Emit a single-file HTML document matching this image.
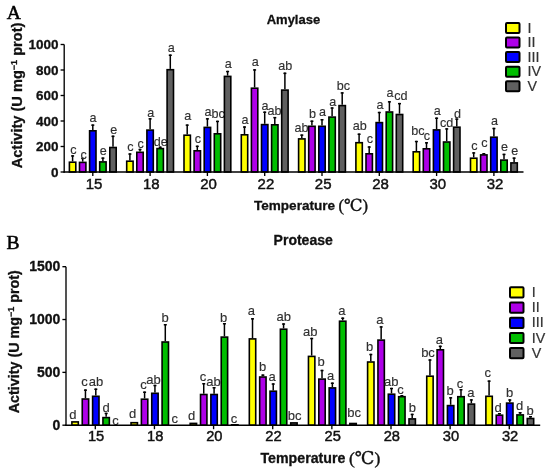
<!DOCTYPE html>
<html><head><meta charset="utf-8"><title>Amylase and Protease activity</title>
<style>
html,body{margin:0;padding:0;background:#fff;}
body{width:550px;height:473px;overflow:hidden;}
svg{display:block;}
text{font-family:"Liberation Sans", Arial, sans-serif;fill:#111;}
.la{font-size:12.6px;fill:#303030;stroke:#303030;stroke-width:0.15px;text-anchor:middle;}
.lb{font-size:13px;fill:#303030;stroke:#303030;stroke-width:0.15px;text-anchor:middle;}
.ya{font-size:13.5px;font-weight:bold;stroke:#111;stroke-width:0.3px;}
.yb{font-size:14px;font-weight:bold;stroke:#111;stroke-width:0.3px;}
.xa{font-size:15px;stroke:#111;stroke-width:0.45px;}
.xb{font-size:14.7px;stroke:#111;stroke-width:0.45px;}
.lg{font-size:14.3px;fill:#333;stroke:#333;stroke-width:0.2px;}
.tt{font-weight:bold;stroke:#111;stroke-width:0.3px;}
.pl{font-family:"Liberation Serif", "Times New Roman", serif;stroke:#000;stroke-width:0.5px;fill:#000;}
.cj{font-family:"Liberation Serif", "DejaVu Serif", "Noto Serif CJK SC", serif;fill:#111;stroke:#111;stroke-width:0.4px;}
</style></head>
<body>
<svg width="550" height="473" viewBox="0 0 550 473">
<rect width="550" height="473" fill="#fff"/>
<text x="6.8" y="18.9" class="pl" font-size="19.6">A</text>
<text x="266.7" y="24" class="tt" font-size="13">Amylase</text>
<text x="6.4" y="249.3" class="pl" font-size="19.6">B</text>
<text x="273.6" y="245.4" class="tt" font-size="14">Protease</text>
<text transform="translate(22.2,168.3) rotate(-90)" class="tt" font-size="14.6">Activity (U mg<tspan font-size="9" dy="-5">−1</tspan><tspan dy="5"> prot)</tspan></text>
<text transform="translate(19.4,413.2) rotate(-90)" class="tt" font-size="14.3">Activity (U mg<tspan font-size="9" dy="-5">−1</tspan><tspan dy="5"> prot)</tspan></text>
<text x="254" y="210.4" class="tt" font-size="13.55">Temperature</text><text x="338.6" y="210.6" class="cj" font-size="16.5">(℃)</text>
<text x="260.5" y="463.4" class="tt" font-size="14.2">Temperature</text><text x="349" y="463.6" class="cj" font-size="17.5">(℃)</text>
<line x1="72.60" y1="161.40" x2="72.60" y2="155.20" stroke="#000" stroke-width="1.5"/>
<line x1="71.10" y1="155.95" x2="74.10" y2="155.95" stroke="#000" stroke-width="1.5"/>
<rect x="69.40" y="162.20" width="6.40" height="9.80" fill="#FFFF00" stroke="#000" stroke-width="1.6"/>
<text x="73.40" y="153.70" class="la">c</text>
<line x1="82.70" y1="161.60" x2="82.70" y2="157.70" stroke="#000" stroke-width="1.5"/>
<line x1="81.20" y1="158.45" x2="84.20" y2="158.45" stroke="#000" stroke-width="1.5"/>
<rect x="79.50" y="162.40" width="6.40" height="9.60" fill="#AE00E8" stroke="#000" stroke-width="1.6"/>
<text x="83.60" y="158.90" class="la">c</text>
<line x1="92.80" y1="130.00" x2="92.80" y2="124.40" stroke="#000" stroke-width="1.5"/>
<line x1="91.30" y1="125.15" x2="94.30" y2="125.15" stroke="#000" stroke-width="1.5"/>
<rect x="89.60" y="130.80" width="6.40" height="41.20" fill="#0000FF" stroke="#000" stroke-width="1.6"/>
<text x="93.10" y="121.90" class="la">a</text>
<line x1="102.90" y1="161.10" x2="102.90" y2="157.40" stroke="#000" stroke-width="1.5"/>
<line x1="101.40" y1="158.15" x2="104.40" y2="158.15" stroke="#000" stroke-width="1.5"/>
<rect x="99.70" y="161.90" width="6.40" height="10.10" fill="#00BE00" stroke="#000" stroke-width="1.6"/>
<text x="103.20" y="155.20" class="la">e</text>
<line x1="113.00" y1="146.70" x2="113.00" y2="135.60" stroke="#000" stroke-width="1.5"/>
<line x1="111.50" y1="136.35" x2="114.50" y2="136.35" stroke="#000" stroke-width="1.5"/>
<rect x="109.80" y="147.50" width="6.40" height="24.50" fill="#606060" stroke="#000" stroke-width="1.6"/>
<text x="113.80" y="134.40" class="la">e</text>
<line x1="129.90" y1="160.40" x2="129.90" y2="153.30" stroke="#000" stroke-width="1.5"/>
<line x1="128.40" y1="154.05" x2="131.40" y2="154.05" stroke="#000" stroke-width="1.5"/>
<rect x="126.70" y="161.20" width="6.40" height="10.80" fill="#FFFF00" stroke="#000" stroke-width="1.6"/>
<text x="130.50" y="150.70" class="la">c</text>
<line x1="140.00" y1="151.50" x2="140.00" y2="148.80" stroke="#000" stroke-width="1.5"/>
<line x1="138.50" y1="149.55" x2="141.50" y2="149.55" stroke="#000" stroke-width="1.5"/>
<rect x="136.80" y="152.30" width="6.40" height="19.70" fill="#AE00E8" stroke="#000" stroke-width="1.6"/>
<text x="140.60" y="147.80" class="la">c</text>
<line x1="150.10" y1="129.30" x2="150.10" y2="118.10" stroke="#000" stroke-width="1.5"/>
<line x1="148.60" y1="118.85" x2="151.60" y2="118.85" stroke="#000" stroke-width="1.5"/>
<rect x="146.90" y="130.10" width="6.40" height="41.90" fill="#0000FF" stroke="#000" stroke-width="1.6"/>
<text x="150.70" y="116.70" class="la">a</text>
<line x1="160.20" y1="147.80" x2="160.20" y2="146.50" stroke="#000" stroke-width="1.5"/>
<line x1="158.70" y1="147.25" x2="161.70" y2="147.25" stroke="#000" stroke-width="1.5"/>
<rect x="157.00" y="148.60" width="6.40" height="23.40" fill="#00BE00" stroke="#000" stroke-width="1.6"/>
<text x="160.80" y="145.60" class="la">de</text>
<line x1="170.30" y1="68.90" x2="170.30" y2="54.50" stroke="#000" stroke-width="1.5"/>
<line x1="168.80" y1="55.25" x2="171.80" y2="55.25" stroke="#000" stroke-width="1.5"/>
<rect x="167.10" y="69.70" width="6.40" height="102.30" fill="#606060" stroke="#000" stroke-width="1.6"/>
<text x="171.15" y="51.90" class="la">a</text>
<line x1="187.20" y1="134.40" x2="187.20" y2="124.40" stroke="#000" stroke-width="1.5"/>
<line x1="185.70" y1="125.15" x2="188.70" y2="125.15" stroke="#000" stroke-width="1.5"/>
<rect x="184.00" y="135.20" width="6.40" height="36.80" fill="#FFFF00" stroke="#000" stroke-width="1.6"/>
<text x="187.80" y="120.10" class="la">a</text>
<line x1="197.30" y1="150.00" x2="197.30" y2="145.60" stroke="#000" stroke-width="1.5"/>
<line x1="195.80" y1="146.35" x2="198.80" y2="146.35" stroke="#000" stroke-width="1.5"/>
<rect x="194.10" y="150.80" width="6.40" height="21.20" fill="#AE00E8" stroke="#000" stroke-width="1.6"/>
<text x="197.90" y="143.30" class="la">c</text>
<line x1="207.40" y1="126.60" x2="207.40" y2="118.10" stroke="#000" stroke-width="1.5"/>
<line x1="205.90" y1="118.85" x2="208.90" y2="118.85" stroke="#000" stroke-width="1.5"/>
<rect x="204.20" y="127.40" width="6.40" height="44.60" fill="#0000FF" stroke="#000" stroke-width="1.6"/>
<text x="208.00" y="116.00" class="la">a</text>
<line x1="217.50" y1="133.00" x2="217.50" y2="120.70" stroke="#000" stroke-width="1.5"/>
<line x1="216.00" y1="121.45" x2="219.00" y2="121.45" stroke="#000" stroke-width="1.5"/>
<rect x="214.30" y="133.80" width="6.40" height="38.20" fill="#00BE00" stroke="#000" stroke-width="1.6"/>
<text x="218.10" y="118.10" class="la">bc</text>
<line x1="227.60" y1="75.60" x2="227.60" y2="70.80" stroke="#000" stroke-width="1.5"/>
<line x1="226.10" y1="71.55" x2="229.10" y2="71.55" stroke="#000" stroke-width="1.5"/>
<rect x="224.40" y="76.40" width="6.40" height="95.60" fill="#606060" stroke="#000" stroke-width="1.6"/>
<text x="228.20" y="68.10" class="la">a</text>
<line x1="244.50" y1="134.00" x2="244.50" y2="126.30" stroke="#000" stroke-width="1.5"/>
<line x1="243.00" y1="127.05" x2="246.00" y2="127.05" stroke="#000" stroke-width="1.5"/>
<rect x="241.30" y="134.80" width="6.40" height="37.20" fill="#FFFF00" stroke="#000" stroke-width="1.6"/>
<text x="245.10" y="123.60" class="la">a</text>
<line x1="254.60" y1="87.40" x2="254.60" y2="69.20" stroke="#000" stroke-width="1.5"/>
<line x1="253.10" y1="69.95" x2="256.10" y2="69.95" stroke="#000" stroke-width="1.5"/>
<rect x="251.40" y="88.20" width="6.40" height="83.80" fill="#AE00E8" stroke="#000" stroke-width="1.6"/>
<text x="255.20" y="65.90" class="la">a</text>
<line x1="264.70" y1="123.80" x2="264.70" y2="111.50" stroke="#000" stroke-width="1.5"/>
<line x1="263.20" y1="112.25" x2="266.20" y2="112.25" stroke="#000" stroke-width="1.5"/>
<rect x="261.50" y="124.60" width="6.40" height="47.40" fill="#0000FF" stroke="#000" stroke-width="1.6"/>
<text x="265.00" y="109.60" class="la">a</text>
<line x1="274.80" y1="124.00" x2="274.80" y2="116.90" stroke="#000" stroke-width="1.5"/>
<line x1="273.30" y1="117.65" x2="276.30" y2="117.65" stroke="#000" stroke-width="1.5"/>
<rect x="271.60" y="124.80" width="6.40" height="47.20" fill="#00BE00" stroke="#000" stroke-width="1.6"/>
<text x="274.50" y="115.00" class="la">ab</text>
<line x1="284.90" y1="89.30" x2="284.90" y2="72.60" stroke="#000" stroke-width="1.5"/>
<line x1="283.40" y1="73.35" x2="286.40" y2="73.35" stroke="#000" stroke-width="1.5"/>
<rect x="281.70" y="90.10" width="6.40" height="81.90" fill="#606060" stroke="#000" stroke-width="1.6"/>
<text x="285.30" y="70.40" class="la">ab</text>
<line x1="301.80" y1="138.10" x2="301.80" y2="134.40" stroke="#000" stroke-width="1.5"/>
<line x1="300.30" y1="135.15" x2="303.30" y2="135.15" stroke="#000" stroke-width="1.5"/>
<rect x="298.60" y="138.90" width="6.40" height="33.10" fill="#FFFF00" stroke="#000" stroke-width="1.6"/>
<text x="301.50" y="131.50" class="la">ab</text>
<line x1="311.90" y1="125.50" x2="311.90" y2="120.50" stroke="#000" stroke-width="1.5"/>
<line x1="310.40" y1="121.25" x2="313.40" y2="121.25" stroke="#000" stroke-width="1.5"/>
<rect x="308.70" y="126.30" width="6.40" height="45.70" fill="#AE00E8" stroke="#000" stroke-width="1.6"/>
<text x="312.50" y="118.10" class="la">b</text>
<line x1="322.00" y1="125.50" x2="322.00" y2="119.00" stroke="#000" stroke-width="1.5"/>
<line x1="320.50" y1="119.75" x2="323.50" y2="119.75" stroke="#000" stroke-width="1.5"/>
<rect x="318.80" y="126.30" width="6.40" height="45.70" fill="#0000FF" stroke="#000" stroke-width="1.6"/>
<text x="322.60" y="115.90" class="la">a</text>
<line x1="332.10" y1="116.30" x2="332.10" y2="107.30" stroke="#000" stroke-width="1.5"/>
<line x1="330.60" y1="108.05" x2="333.60" y2="108.05" stroke="#000" stroke-width="1.5"/>
<rect x="328.90" y="117.10" width="6.40" height="54.90" fill="#00BE00" stroke="#000" stroke-width="1.6"/>
<text x="332.70" y="106.30" class="la">a</text>
<line x1="342.20" y1="104.80" x2="342.20" y2="92.20" stroke="#000" stroke-width="1.5"/>
<line x1="340.70" y1="92.95" x2="343.70" y2="92.95" stroke="#000" stroke-width="1.5"/>
<rect x="339.00" y="105.60" width="6.40" height="66.40" fill="#606060" stroke="#000" stroke-width="1.6"/>
<text x="343.50" y="90.00" class="la">bc</text>
<line x1="359.10" y1="141.90" x2="359.10" y2="133.50" stroke="#000" stroke-width="1.5"/>
<line x1="357.60" y1="134.25" x2="360.60" y2="134.25" stroke="#000" stroke-width="1.5"/>
<rect x="355.90" y="142.70" width="6.40" height="29.30" fill="#FFFF00" stroke="#000" stroke-width="1.6"/>
<text x="359.75" y="130.30" class="la">ab</text>
<line x1="369.20" y1="153.00" x2="369.20" y2="146.30" stroke="#000" stroke-width="1.5"/>
<line x1="367.70" y1="147.05" x2="370.70" y2="147.05" stroke="#000" stroke-width="1.5"/>
<rect x="366.00" y="153.80" width="6.40" height="18.20" fill="#AE00E8" stroke="#000" stroke-width="1.6"/>
<text x="369.80" y="142.90" class="la">c</text>
<line x1="379.30" y1="121.80" x2="379.30" y2="111.80" stroke="#000" stroke-width="1.5"/>
<line x1="377.80" y1="112.55" x2="380.80" y2="112.55" stroke="#000" stroke-width="1.5"/>
<rect x="376.10" y="122.60" width="6.40" height="49.40" fill="#0000FF" stroke="#000" stroke-width="1.6"/>
<text x="379.90" y="109.30" class="la">a</text>
<line x1="389.40" y1="111.20" x2="389.40" y2="101.10" stroke="#000" stroke-width="1.5"/>
<line x1="387.90" y1="101.85" x2="390.90" y2="101.85" stroke="#000" stroke-width="1.5"/>
<rect x="386.20" y="112.00" width="6.40" height="60.00" fill="#00BE00" stroke="#000" stroke-width="1.6"/>
<text x="390.00" y="97.40" class="la">a</text>
<line x1="399.50" y1="113.70" x2="399.50" y2="102.90" stroke="#000" stroke-width="1.5"/>
<line x1="398.00" y1="103.65" x2="401.00" y2="103.65" stroke="#000" stroke-width="1.5"/>
<rect x="396.30" y="114.50" width="6.40" height="57.50" fill="#606060" stroke="#000" stroke-width="1.6"/>
<text x="400.90" y="99.60" class="la">cd</text>
<line x1="416.40" y1="151.00" x2="416.40" y2="140.80" stroke="#000" stroke-width="1.5"/>
<line x1="414.90" y1="141.55" x2="417.90" y2="141.55" stroke="#000" stroke-width="1.5"/>
<rect x="413.20" y="151.80" width="6.40" height="20.20" fill="#FFFF00" stroke="#000" stroke-width="1.6"/>
<text x="417.90" y="135.40" class="la">bc</text>
<line x1="426.50" y1="148.00" x2="426.50" y2="142.10" stroke="#000" stroke-width="1.5"/>
<line x1="425.00" y1="142.85" x2="428.00" y2="142.85" stroke="#000" stroke-width="1.5"/>
<rect x="423.30" y="148.80" width="6.40" height="23.20" fill="#AE00E8" stroke="#000" stroke-width="1.6"/>
<text x="426.85" y="139.90" class="la">c</text>
<line x1="436.60" y1="129.10" x2="436.60" y2="117.50" stroke="#000" stroke-width="1.5"/>
<line x1="435.10" y1="118.25" x2="438.10" y2="118.25" stroke="#000" stroke-width="1.5"/>
<rect x="433.40" y="129.90" width="6.40" height="42.10" fill="#0000FF" stroke="#000" stroke-width="1.6"/>
<text x="437.20" y="114.80" class="la">a</text>
<line x1="446.70" y1="141.20" x2="446.70" y2="128.20" stroke="#000" stroke-width="1.5"/>
<line x1="445.20" y1="128.95" x2="448.20" y2="128.95" stroke="#000" stroke-width="1.5"/>
<rect x="443.50" y="142.00" width="6.40" height="30.00" fill="#00BE00" stroke="#000" stroke-width="1.6"/>
<text x="446.60" y="127.30" class="la">cd</text>
<line x1="456.80" y1="126.40" x2="456.80" y2="118.40" stroke="#000" stroke-width="1.5"/>
<line x1="455.30" y1="119.15" x2="458.30" y2="119.15" stroke="#000" stroke-width="1.5"/>
<rect x="453.60" y="127.20" width="6.40" height="44.80" fill="#606060" stroke="#000" stroke-width="1.6"/>
<text x="457.40" y="117.50" class="la">d</text>
<line x1="473.70" y1="157.40" x2="473.70" y2="152.20" stroke="#000" stroke-width="1.5"/>
<line x1="472.20" y1="152.95" x2="475.20" y2="152.95" stroke="#000" stroke-width="1.5"/>
<rect x="470.50" y="158.20" width="6.40" height="13.80" fill="#FFFF00" stroke="#000" stroke-width="1.6"/>
<text x="474.30" y="150.30" class="la">c</text>
<line x1="483.80" y1="154.10" x2="483.80" y2="153.00" stroke="#000" stroke-width="1.5"/>
<line x1="482.30" y1="153.75" x2="485.30" y2="153.75" stroke="#000" stroke-width="1.5"/>
<rect x="480.60" y="154.90" width="6.40" height="17.10" fill="#AE00E8" stroke="#000" stroke-width="1.6"/>
<text x="484.40" y="147.00" class="la">c</text>
<line x1="493.90" y1="136.40" x2="493.90" y2="127.80" stroke="#000" stroke-width="1.5"/>
<line x1="492.40" y1="128.55" x2="495.40" y2="128.55" stroke="#000" stroke-width="1.5"/>
<rect x="490.70" y="137.20" width="6.40" height="34.80" fill="#0000FF" stroke="#000" stroke-width="1.6"/>
<text x="494.50" y="124.80" class="la">a</text>
<line x1="504.00" y1="159.30" x2="504.00" y2="153.70" stroke="#000" stroke-width="1.5"/>
<line x1="502.50" y1="154.45" x2="505.50" y2="154.45" stroke="#000" stroke-width="1.5"/>
<rect x="500.80" y="160.10" width="6.40" height="11.90" fill="#00BE00" stroke="#000" stroke-width="1.6"/>
<text x="504.60" y="151.20" class="la">e</text>
<line x1="514.10" y1="162.10" x2="514.10" y2="157.40" stroke="#000" stroke-width="1.5"/>
<line x1="512.60" y1="158.15" x2="515.60" y2="158.15" stroke="#000" stroke-width="1.5"/>
<rect x="510.90" y="162.90" width="6.40" height="9.10" fill="#606060" stroke="#000" stroke-width="1.6"/>
<text x="514.70" y="155.20" class="la">e</text>
<line x1="64.20" y1="44.50" x2="64.20" y2="172.75" stroke="#000" stroke-width="1.35"/>
<line x1="63.45" y1="172.00" x2="523.50" y2="172.00" stroke="#000" stroke-width="1.35"/>
<line x1="60.60" y1="172.00" x2="64.20" y2="172.00" stroke="#000" stroke-width="1.35"/>
<text x="58.50" y="176.60" class="ya" text-anchor="end">0</text>
<line x1="60.60" y1="146.50" x2="64.20" y2="146.50" stroke="#000" stroke-width="1.35"/>
<text x="58.50" y="151.10" class="ya" text-anchor="end">200</text>
<line x1="60.60" y1="121.00" x2="64.20" y2="121.00" stroke="#000" stroke-width="1.35"/>
<text x="58.50" y="125.60" class="ya" text-anchor="end">400</text>
<line x1="60.60" y1="95.50" x2="64.20" y2="95.50" stroke="#000" stroke-width="1.35"/>
<text x="58.50" y="100.10" class="ya" text-anchor="end">600</text>
<line x1="60.60" y1="70.00" x2="64.20" y2="70.00" stroke="#000" stroke-width="1.35"/>
<text x="58.50" y="74.60" class="ya" text-anchor="end">800</text>
<line x1="60.60" y1="44.50" x2="64.20" y2="44.50" stroke="#000" stroke-width="1.35"/>
<text x="58.50" y="49.10" class="ya" text-anchor="end">1000</text>
<line x1="92.80" y1="172.00" x2="92.80" y2="176.00" stroke="#000" stroke-width="1.35"/>
<text x="94.00" y="189.00" class="xa" text-anchor="middle">15</text>
<line x1="150.10" y1="172.00" x2="150.10" y2="176.00" stroke="#000" stroke-width="1.35"/>
<text x="151.30" y="189.00" class="xa" text-anchor="middle">18</text>
<line x1="207.40" y1="172.00" x2="207.40" y2="176.00" stroke="#000" stroke-width="1.35"/>
<text x="208.60" y="189.00" class="xa" text-anchor="middle">20</text>
<line x1="264.70" y1="172.00" x2="264.70" y2="176.00" stroke="#000" stroke-width="1.35"/>
<text x="265.90" y="189.00" class="xa" text-anchor="middle">22</text>
<line x1="322.00" y1="172.00" x2="322.00" y2="176.00" stroke="#000" stroke-width="1.35"/>
<text x="323.20" y="189.00" class="xa" text-anchor="middle">25</text>
<line x1="379.30" y1="172.00" x2="379.30" y2="176.00" stroke="#000" stroke-width="1.35"/>
<text x="380.50" y="189.00" class="xa" text-anchor="middle">28</text>
<line x1="436.60" y1="172.00" x2="436.60" y2="176.00" stroke="#000" stroke-width="1.35"/>
<text x="437.80" y="189.00" class="xa" text-anchor="middle">30</text>
<line x1="493.90" y1="172.00" x2="493.90" y2="176.00" stroke="#000" stroke-width="1.35"/>
<text x="495.10" y="189.00" class="xa" text-anchor="middle">32</text>
<rect x="71.90" y="421.90" width="6.40" height="3.30" fill="#FFFF00" stroke="#000" stroke-width="1.6"/>
<text x="72.80" y="418.90" class="lb">d</text>
<line x1="85.45" y1="398.20" x2="85.45" y2="389.40" stroke="#000" stroke-width="1.5"/>
<line x1="83.95" y1="390.15" x2="86.95" y2="390.15" stroke="#000" stroke-width="1.5"/>
<rect x="82.25" y="399.00" width="6.40" height="26.20" fill="#AE00E8" stroke="#000" stroke-width="1.6"/>
<text x="84.50" y="385.60" class="lb">c</text>
<line x1="95.80" y1="395.50" x2="95.80" y2="388.50" stroke="#000" stroke-width="1.5"/>
<line x1="94.30" y1="389.25" x2="97.30" y2="389.25" stroke="#000" stroke-width="1.5"/>
<rect x="92.60" y="396.30" width="6.40" height="28.90" fill="#0000FF" stroke="#000" stroke-width="1.6"/>
<text x="95.90" y="386.30" class="lb">ab</text>
<line x1="106.15" y1="416.80" x2="106.15" y2="412.70" stroke="#000" stroke-width="1.5"/>
<line x1="104.65" y1="413.45" x2="107.65" y2="413.45" stroke="#000" stroke-width="1.5"/>
<rect x="102.95" y="417.60" width="6.40" height="7.60" fill="#00BE00" stroke="#000" stroke-width="1.6"/>
<text x="106.00" y="411.50" class="lb">d</text>
<text x="115.50" y="424.80" class="lb">c</text>
<rect x="131.04" y="422.70" width="6.40" height="2.50" fill="#FFFF00" stroke="#000" stroke-width="1.6"/>
<text x="132.60" y="417.70" class="lb">d</text>
<line x1="144.59" y1="398.40" x2="144.59" y2="391.50" stroke="#000" stroke-width="1.5"/>
<line x1="143.09" y1="392.25" x2="146.09" y2="392.25" stroke="#000" stroke-width="1.5"/>
<rect x="141.39" y="399.20" width="6.40" height="26.00" fill="#AE00E8" stroke="#000" stroke-width="1.6"/>
<text x="143.50" y="389.30" class="lb">c</text>
<line x1="154.94" y1="392.50" x2="154.94" y2="384.80" stroke="#000" stroke-width="1.5"/>
<line x1="153.44" y1="385.55" x2="156.44" y2="385.55" stroke="#000" stroke-width="1.5"/>
<rect x="151.74" y="393.30" width="6.40" height="31.90" fill="#0000FF" stroke="#000" stroke-width="1.6"/>
<text x="153.50" y="384.10" class="lb">ab</text>
<line x1="165.29" y1="341.20" x2="165.29" y2="324.00" stroke="#000" stroke-width="1.5"/>
<line x1="163.79" y1="324.75" x2="166.79" y2="324.75" stroke="#000" stroke-width="1.5"/>
<rect x="162.09" y="342.00" width="6.40" height="83.20" fill="#00BE00" stroke="#000" stroke-width="1.6"/>
<text x="165.00" y="321.50" class="lb">b</text>
<text x="174.70" y="423.00" class="lb">c</text>
<rect x="190.18" y="423.40" width="6.40" height="1.80" fill="#FFFF00" stroke="#000" stroke-width="1.6"/>
<text x="191.70" y="420.40" class="lb">d</text>
<line x1="203.73" y1="393.70" x2="203.73" y2="383.00" stroke="#000" stroke-width="1.5"/>
<line x1="202.23" y1="383.75" x2="205.23" y2="383.75" stroke="#000" stroke-width="1.5"/>
<rect x="200.53" y="394.50" width="6.40" height="30.70" fill="#AE00E8" stroke="#000" stroke-width="1.6"/>
<text x="203.00" y="381.10" class="lb">c</text>
<line x1="214.08" y1="393.70" x2="214.08" y2="387.00" stroke="#000" stroke-width="1.5"/>
<line x1="212.58" y1="387.75" x2="215.58" y2="387.75" stroke="#000" stroke-width="1.5"/>
<rect x="210.88" y="394.50" width="6.40" height="30.70" fill="#0000FF" stroke="#000" stroke-width="1.6"/>
<text x="213.50" y="386.00" class="lb">ab</text>
<line x1="224.43" y1="336.30" x2="224.43" y2="323.00" stroke="#000" stroke-width="1.5"/>
<line x1="222.93" y1="323.75" x2="225.93" y2="323.75" stroke="#000" stroke-width="1.5"/>
<rect x="221.23" y="337.10" width="6.40" height="88.10" fill="#00BE00" stroke="#000" stroke-width="1.6"/>
<text x="223.70" y="321.50" class="lb">b</text>
<rect x="231.58" y="424.80" width="6.40" height="0.40" fill="#606060" stroke="#000" stroke-width="1.6"/>
<text x="234.00" y="423.00" class="lb">c</text>
<line x1="252.52" y1="338.10" x2="252.52" y2="318.10" stroke="#000" stroke-width="1.5"/>
<line x1="251.02" y1="318.85" x2="254.02" y2="318.85" stroke="#000" stroke-width="1.5"/>
<rect x="249.32" y="338.90" width="6.40" height="86.30" fill="#FFFF00" stroke="#000" stroke-width="1.6"/>
<text x="251.30" y="315.10" class="lb">a</text>
<line x1="262.87" y1="376.20" x2="262.87" y2="374.40" stroke="#000" stroke-width="1.5"/>
<line x1="261.37" y1="375.15" x2="264.37" y2="375.15" stroke="#000" stroke-width="1.5"/>
<rect x="259.67" y="377.00" width="6.40" height="48.20" fill="#AE00E8" stroke="#000" stroke-width="1.6"/>
<text x="262.50" y="371.30" class="lb">b</text>
<line x1="273.22" y1="390.40" x2="273.22" y2="383.30" stroke="#000" stroke-width="1.5"/>
<line x1="271.72" y1="384.05" x2="274.72" y2="384.05" stroke="#000" stroke-width="1.5"/>
<rect x="270.02" y="391.20" width="6.40" height="34.00" fill="#0000FF" stroke="#000" stroke-width="1.6"/>
<text x="272.00" y="380.60" class="lb">a</text>
<line x1="283.57" y1="328.40" x2="283.57" y2="323.30" stroke="#000" stroke-width="1.5"/>
<line x1="282.07" y1="324.05" x2="285.07" y2="324.05" stroke="#000" stroke-width="1.5"/>
<rect x="280.37" y="329.20" width="6.40" height="96.00" fill="#00BE00" stroke="#000" stroke-width="1.6"/>
<text x="283.70" y="320.70" class="lb">ab</text>
<rect x="290.72" y="422.90" width="6.40" height="2.30" fill="#606060" stroke="#000" stroke-width="1.6"/>
<text x="294.60" y="419.60" class="lb">bc</text>
<line x1="311.66" y1="355.60" x2="311.66" y2="337.80" stroke="#000" stroke-width="1.5"/>
<line x1="310.16" y1="338.55" x2="313.16" y2="338.55" stroke="#000" stroke-width="1.5"/>
<rect x="308.46" y="356.40" width="6.40" height="68.80" fill="#FFFF00" stroke="#000" stroke-width="1.6"/>
<text x="310.30" y="335.60" class="lb">ab</text>
<line x1="322.01" y1="378.30" x2="322.01" y2="369.80" stroke="#000" stroke-width="1.5"/>
<line x1="320.51" y1="370.55" x2="323.51" y2="370.55" stroke="#000" stroke-width="1.5"/>
<rect x="318.81" y="379.10" width="6.40" height="46.10" fill="#AE00E8" stroke="#000" stroke-width="1.6"/>
<text x="321.00" y="366.00" class="lb">b</text>
<line x1="332.36" y1="387.10" x2="332.36" y2="382.50" stroke="#000" stroke-width="1.5"/>
<line x1="330.86" y1="383.25" x2="333.86" y2="383.25" stroke="#000" stroke-width="1.5"/>
<rect x="329.16" y="387.90" width="6.40" height="37.30" fill="#0000FF" stroke="#000" stroke-width="1.6"/>
<text x="330.60" y="380.00" class="lb">a</text>
<line x1="342.71" y1="320.40" x2="342.71" y2="317.50" stroke="#000" stroke-width="1.5"/>
<line x1="341.21" y1="318.25" x2="344.21" y2="318.25" stroke="#000" stroke-width="1.5"/>
<rect x="339.51" y="321.20" width="6.40" height="104.00" fill="#00BE00" stroke="#000" stroke-width="1.6"/>
<text x="341.80" y="315.10" class="lb">a</text>
<rect x="349.86" y="423.50" width="6.40" height="1.70" fill="#606060" stroke="#000" stroke-width="1.6"/>
<text x="354.20" y="416.80" class="lb">bc</text>
<line x1="370.80" y1="361.20" x2="370.80" y2="353.80" stroke="#000" stroke-width="1.5"/>
<line x1="369.30" y1="354.55" x2="372.30" y2="354.55" stroke="#000" stroke-width="1.5"/>
<rect x="367.60" y="362.00" width="6.40" height="63.20" fill="#FFFF00" stroke="#000" stroke-width="1.6"/>
<text x="369.70" y="351.10" class="lb">b</text>
<line x1="381.15" y1="339.30" x2="381.15" y2="326.20" stroke="#000" stroke-width="1.5"/>
<line x1="379.65" y1="326.95" x2="382.65" y2="326.95" stroke="#000" stroke-width="1.5"/>
<rect x="377.95" y="340.10" width="6.40" height="85.10" fill="#AE00E8" stroke="#000" stroke-width="1.6"/>
<text x="379.80" y="323.70" class="lb">a</text>
<line x1="391.50" y1="393.40" x2="391.50" y2="387.80" stroke="#000" stroke-width="1.5"/>
<line x1="390.00" y1="388.55" x2="393.00" y2="388.55" stroke="#000" stroke-width="1.5"/>
<rect x="388.30" y="394.20" width="6.40" height="31.00" fill="#0000FF" stroke="#000" stroke-width="1.6"/>
<text x="391.30" y="385.60" class="lb">ab</text>
<line x1="401.85" y1="395.90" x2="401.85" y2="395.00" stroke="#000" stroke-width="1.5"/>
<line x1="400.35" y1="395.75" x2="403.35" y2="395.75" stroke="#000" stroke-width="1.5"/>
<rect x="398.65" y="396.70" width="6.40" height="28.50" fill="#00BE00" stroke="#000" stroke-width="1.6"/>
<text x="400.40" y="393.70" class="lb">c</text>
<line x1="412.20" y1="418.10" x2="412.20" y2="413.70" stroke="#000" stroke-width="1.5"/>
<line x1="410.70" y1="414.45" x2="413.70" y2="414.45" stroke="#000" stroke-width="1.5"/>
<rect x="409.00" y="418.90" width="6.40" height="6.30" fill="#606060" stroke="#000" stroke-width="1.6"/>
<text x="412.30" y="411.50" class="lb">b</text>
<line x1="429.94" y1="375.40" x2="429.94" y2="359.30" stroke="#000" stroke-width="1.5"/>
<line x1="428.44" y1="360.05" x2="431.44" y2="360.05" stroke="#000" stroke-width="1.5"/>
<rect x="426.74" y="376.20" width="6.40" height="49.00" fill="#FFFF00" stroke="#000" stroke-width="1.6"/>
<text x="428.00" y="357.40" class="lb">bc</text>
<line x1="440.29" y1="349.00" x2="440.29" y2="345.60" stroke="#000" stroke-width="1.5"/>
<line x1="438.79" y1="346.35" x2="441.79" y2="346.35" stroke="#000" stroke-width="1.5"/>
<rect x="437.09" y="349.80" width="6.40" height="75.40" fill="#AE00E8" stroke="#000" stroke-width="1.6"/>
<text x="439.30" y="344.10" class="lb">a</text>
<line x1="450.64" y1="404.80" x2="450.64" y2="397.10" stroke="#000" stroke-width="1.5"/>
<line x1="449.14" y1="397.85" x2="452.14" y2="397.85" stroke="#000" stroke-width="1.5"/>
<rect x="447.44" y="405.60" width="6.40" height="19.60" fill="#0000FF" stroke="#000" stroke-width="1.6"/>
<text x="450.00" y="395.20" class="lb">b</text>
<line x1="460.99" y1="395.90" x2="460.99" y2="389.00" stroke="#000" stroke-width="1.5"/>
<line x1="459.49" y1="389.75" x2="462.49" y2="389.75" stroke="#000" stroke-width="1.5"/>
<rect x="457.79" y="396.70" width="6.40" height="28.50" fill="#00BE00" stroke="#000" stroke-width="1.6"/>
<text x="460.10" y="387.50" class="lb">c</text>
<line x1="471.34" y1="403.30" x2="471.34" y2="399.20" stroke="#000" stroke-width="1.5"/>
<line x1="469.84" y1="399.95" x2="472.84" y2="399.95" stroke="#000" stroke-width="1.5"/>
<rect x="468.14" y="404.10" width="6.40" height="21.10" fill="#606060" stroke="#000" stroke-width="1.6"/>
<text x="470.90" y="396.70" class="lb">a</text>
<line x1="489.08" y1="395.50" x2="489.08" y2="380.40" stroke="#000" stroke-width="1.5"/>
<line x1="487.58" y1="381.15" x2="490.58" y2="381.15" stroke="#000" stroke-width="1.5"/>
<rect x="485.88" y="396.30" width="6.40" height="28.90" fill="#FFFF00" stroke="#000" stroke-width="1.6"/>
<text x="487.70" y="376.70" class="lb">c</text>
<line x1="499.43" y1="414.40" x2="499.43" y2="413.00" stroke="#000" stroke-width="1.5"/>
<line x1="497.93" y1="413.75" x2="500.93" y2="413.75" stroke="#000" stroke-width="1.5"/>
<rect x="496.23" y="415.20" width="6.40" height="10.00" fill="#AE00E8" stroke="#000" stroke-width="1.6"/>
<text x="498.10" y="412.20" class="lb">d</text>
<line x1="509.78" y1="402.30" x2="509.78" y2="399.30" stroke="#000" stroke-width="1.5"/>
<line x1="508.28" y1="400.05" x2="511.28" y2="400.05" stroke="#000" stroke-width="1.5"/>
<rect x="506.58" y="403.10" width="6.40" height="22.10" fill="#0000FF" stroke="#000" stroke-width="1.6"/>
<text x="509.70" y="397.40" class="lb">b</text>
<line x1="520.13" y1="414.10" x2="520.13" y2="412.00" stroke="#000" stroke-width="1.5"/>
<line x1="518.63" y1="412.75" x2="521.63" y2="412.75" stroke="#000" stroke-width="1.5"/>
<rect x="516.93" y="414.90" width="6.40" height="10.30" fill="#00BE00" stroke="#000" stroke-width="1.6"/>
<text x="519.60" y="410.30" class="lb">d</text>
<line x1="530.48" y1="417.70" x2="530.48" y2="416.00" stroke="#000" stroke-width="1.5"/>
<line x1="528.98" y1="416.75" x2="531.98" y2="416.75" stroke="#000" stroke-width="1.5"/>
<rect x="527.28" y="418.50" width="6.40" height="6.70" fill="#606060" stroke="#000" stroke-width="1.6"/>
<text x="530.00" y="415.20" class="lb">b</text>
<line x1="66.00" y1="266.70" x2="66.00" y2="425.95" stroke="#000" stroke-width="1.35"/>
<line x1="65.25" y1="425.20" x2="540.20" y2="425.20" stroke="#000" stroke-width="1.35"/>
<line x1="62.40" y1="425.20" x2="66.00" y2="425.20" stroke="#000" stroke-width="1.35"/>
<text x="60.30" y="429.80" class="yb" text-anchor="end">0</text>
<line x1="62.40" y1="372.37" x2="66.00" y2="372.37" stroke="#000" stroke-width="1.35"/>
<text x="60.30" y="376.97" class="yb" text-anchor="end">500</text>
<line x1="62.40" y1="319.53" x2="66.00" y2="319.53" stroke="#000" stroke-width="1.35"/>
<text x="60.30" y="324.13" class="yb" text-anchor="end">1000</text>
<line x1="62.40" y1="266.69" x2="66.00" y2="266.69" stroke="#000" stroke-width="1.35"/>
<text x="60.30" y="271.30" class="yb" text-anchor="end">1500</text>
<line x1="95.30" y1="425.20" x2="95.30" y2="429.20" stroke="#000" stroke-width="1.35"/>
<text x="96.10" y="441.10" class="xb" text-anchor="middle">15</text>
<line x1="154.44" y1="425.20" x2="154.44" y2="429.20" stroke="#000" stroke-width="1.35"/>
<text x="155.24" y="441.10" class="xb" text-anchor="middle">18</text>
<line x1="213.58" y1="425.20" x2="213.58" y2="429.20" stroke="#000" stroke-width="1.35"/>
<text x="214.38" y="441.10" class="xb" text-anchor="middle">20</text>
<line x1="272.72" y1="425.20" x2="272.72" y2="429.20" stroke="#000" stroke-width="1.35"/>
<text x="273.52" y="441.10" class="xb" text-anchor="middle">22</text>
<line x1="331.86" y1="425.20" x2="331.86" y2="429.20" stroke="#000" stroke-width="1.35"/>
<text x="332.66" y="441.10" class="xb" text-anchor="middle">25</text>
<line x1="391.00" y1="425.20" x2="391.00" y2="429.20" stroke="#000" stroke-width="1.35"/>
<text x="391.80" y="441.10" class="xb" text-anchor="middle">28</text>
<line x1="450.14" y1="425.20" x2="450.14" y2="429.20" stroke="#000" stroke-width="1.35"/>
<text x="450.94" y="441.10" class="xb" text-anchor="middle">30</text>
<line x1="509.28" y1="425.20" x2="509.28" y2="429.20" stroke="#000" stroke-width="1.35"/>
<text x="510.08" y="441.10" class="xb" text-anchor="middle">32</text>
<rect x="506.00" y="22.90" width="13.50" height="10.00" rx="1" fill="#FFFF00" stroke="#000" stroke-width="2"/>
<text x="527.60" y="32.50" class="lg">I</text>
<rect x="506.00" y="37.50" width="13.50" height="10.00" rx="1" fill="#AE00E8" stroke="#000" stroke-width="2"/>
<text x="527.60" y="47.10" class="lg">II</text>
<rect x="506.00" y="52.10" width="13.50" height="10.00" rx="1" fill="#0000FF" stroke="#000" stroke-width="2"/>
<text x="527.60" y="61.70" class="lg">III</text>
<rect x="506.00" y="66.70" width="13.50" height="10.00" rx="1" fill="#00BE00" stroke="#000" stroke-width="2"/>
<text x="527.60" y="76.30" class="lg">IV</text>
<rect x="506.00" y="81.30" width="13.50" height="10.00" rx="1" fill="#606060" stroke="#000" stroke-width="2"/>
<text x="527.60" y="90.90" class="lg">V</text>
<rect x="510.00" y="287.30" width="13.50" height="10.20" rx="1" fill="#FFFF00" stroke="#000" stroke-width="2"/>
<text x="531.80" y="296.90" class="lg">I</text>
<rect x="510.00" y="302.50" width="13.50" height="10.20" rx="1" fill="#AE00E8" stroke="#000" stroke-width="2"/>
<text x="531.80" y="312.10" class="lg">II</text>
<rect x="510.00" y="317.70" width="13.50" height="10.20" rx="1" fill="#0000FF" stroke="#000" stroke-width="2"/>
<text x="531.80" y="327.30" class="lg">III</text>
<rect x="510.00" y="332.90" width="13.50" height="10.20" rx="1" fill="#00BE00" stroke="#000" stroke-width="2"/>
<text x="531.80" y="342.50" class="lg">IV</text>
<rect x="510.00" y="348.10" width="13.50" height="10.20" rx="1" fill="#606060" stroke="#000" stroke-width="2"/>
<text x="531.80" y="357.70" class="lg">V</text>
</svg>
</body></html>
